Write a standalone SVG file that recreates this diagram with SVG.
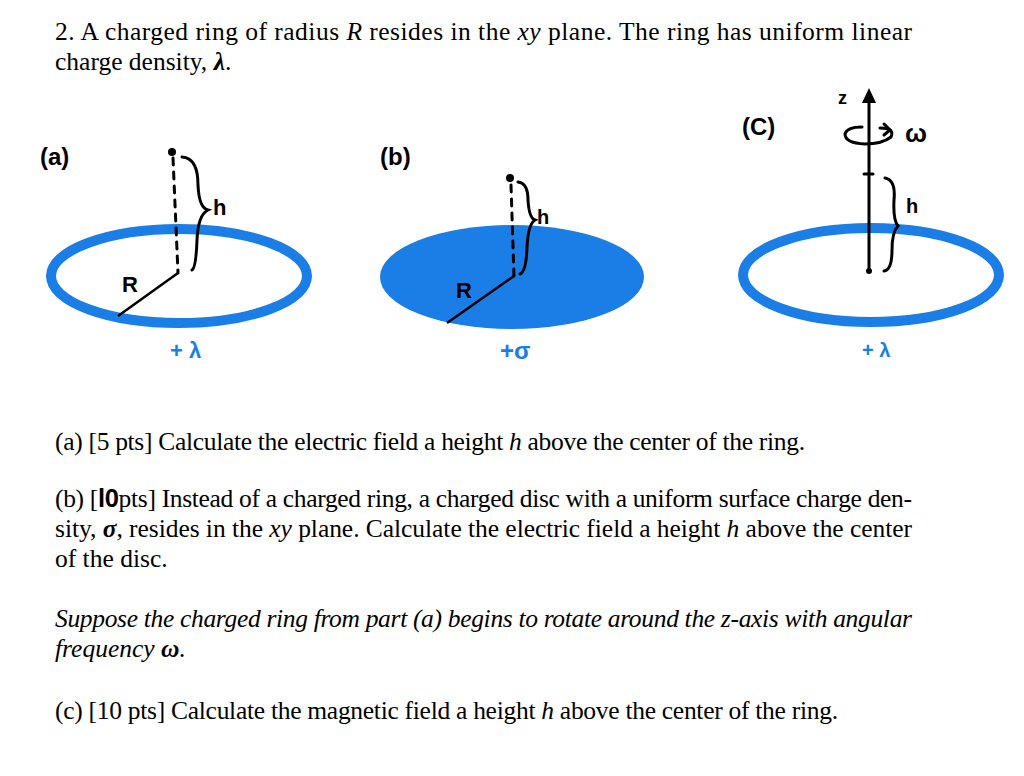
<svg xmlns="http://www.w3.org/2000/svg" width="1024" height="776" viewBox="0 0 1024 776">
<style>
.t{font-family:"Liberation Serif",serif;font-size:25.5px;fill:#000}
.h{font-family:"Liberation Sans",sans-serif;font-weight:bold;fill:#000}
.b{font-family:"Liberation Sans",sans-serif;font-weight:bold;fill:#1a7ee6}
.k{fill:none;stroke:#000;stroke-width:3;stroke-linecap:round}
.ring{fill:none;stroke:#1a7ee6;stroke-width:10}
</style>
<rect width="1024" height="776" fill="#fff"/>
<g id="text">
<text class="t" x="55" y="40" textLength="857" lengthAdjust="spacing">2.  A charged ring of radius <tspan font-style="italic">R</tspan> resides in the <tspan font-style="italic">xy</tspan> plane.  The ring has uniform linear</text>
<text class="t" x="55" y="70">charge density, <tspan font-weight="bold" font-style="italic">λ</tspan>.</text>
<text class="t" x="55" y="450" textLength="750" lengthAdjust="spacing">(a) [5 pts] Calculate the electric field a height <tspan font-style="italic">h</tspan> above the center of the ring.</text>
<text class="t" x="55" y="507" textLength="857" lengthAdjust="spacing">(b) [<tspan font-family="Liberation Sans" font-weight="bold">l0</tspan>pts] Instead of a charged ring, a charged disc with a uniform surface charge den-</text>
<text class="t" x="55" y="537" textLength="857" lengthAdjust="spacing">sity, <tspan font-weight="bold" font-style="italic">σ</tspan>, resides in the <tspan font-style="italic">xy</tspan> plane. Calculate the electric field a height <tspan font-style="italic">h</tspan> above the center</text>
<text class="t" x="55" y="567">of the disc.</text>
<text class="t" x="55" y="627" font-style="italic" textLength="857" lengthAdjust="spacing">Suppose the charged ring from part (a) begins to rotate around the z-axis with angular</text>
<text class="t" x="55" y="657" font-style="italic">frequency <tspan font-weight="bold">ω</tspan>.</text>
<text class="t" x="55" y="719" textLength="783" lengthAdjust="spacing">(c) [10 pts] Calculate the magnetic field a height <tspan font-style="italic">h</tspan> above the center of the ring.</text>
</g>
<g id="fig-a">
<text class="h" x="40" y="165" font-size="24">(a)</text>
<ellipse class="ring" cx="179" cy="276" rx="128" ry="47"/>
<circle cx="172" cy="152" r="4"/>
<line class="k" x1="173" y1="158" x2="178" y2="273" stroke-dasharray="7,7"/>
<line x1="178" y1="273" x2="118" y2="316" stroke="#000" stroke-width="2.5"/>
<path class="k" d="M182 157 Q198 158 198 185 Q199 208 208 210 Q198 215 197 240 Q196 268 192 270"/>
<text class="h" x="213" y="215" font-size="22">h</text>
<text class="h" x="122" y="292" font-size="22">R</text>
<text class="b" x="170" y="358" font-size="22">+ λ</text>
</g>
<g id="fig-b">
<text class="h" x="380" y="165" font-size="24">(b)</text>
<ellipse cx="512" cy="277" rx="132" ry="52" fill="#1a7ee6"/>
<circle cx="510" cy="178" r="4"/>
<line class="k" x1="511" y1="185" x2="514" y2="276" stroke-dasharray="7,7"/>
<line x1="514" y1="276" x2="447" y2="323" stroke="#000" stroke-width="2.5"/>
<path class="k" d="M518 182 Q528 183 528 200 Q529 218 535 220 Q528 224 527 248 Q526 272 520 274"/>
<text class="h" x="537" y="224" font-size="20">h</text>
<text class="h" x="456" y="298" font-size="22">R</text>
<text class="b" x="500" y="359" font-size="24">+σ</text>
</g>
<g id="fig-c">
<text class="h" x="742" y="135" font-size="24">(C)</text>
<ellipse class="ring" cx="871" cy="275" rx="128" ry="47"/>
<line class="k" x1="869" y1="100" x2="869" y2="271"/>
<path d="M869 88 L862 103 L876 103 Z" fill="#000"/>
<text class="h" x="838" y="104" font-size="18">z</text>
<path class="k" d="M880 128 Q895 128 891 137 Q882 144 865 144 Q845 143 845 134 Q847 127 862 127"/>
<path class="k" d="M884 124 L890 130 L884 135"/>
<text class="h" x="905" y="142" font-size="26">ω</text>
<line class="k" x1="864" y1="174" x2="873" y2="174"/>
<circle cx="869" cy="271" r="3"/>
<path class="k" d="M885 178 Q896 180 894 200 Q893 220 898 226 Q892 232 892 250 Q892 270 884 271"/>
<text class="h" x="906" y="213" font-size="20">h</text>
<text class="b" x="862" y="357" font-size="20">+ λ</text>
</g>
</svg>
